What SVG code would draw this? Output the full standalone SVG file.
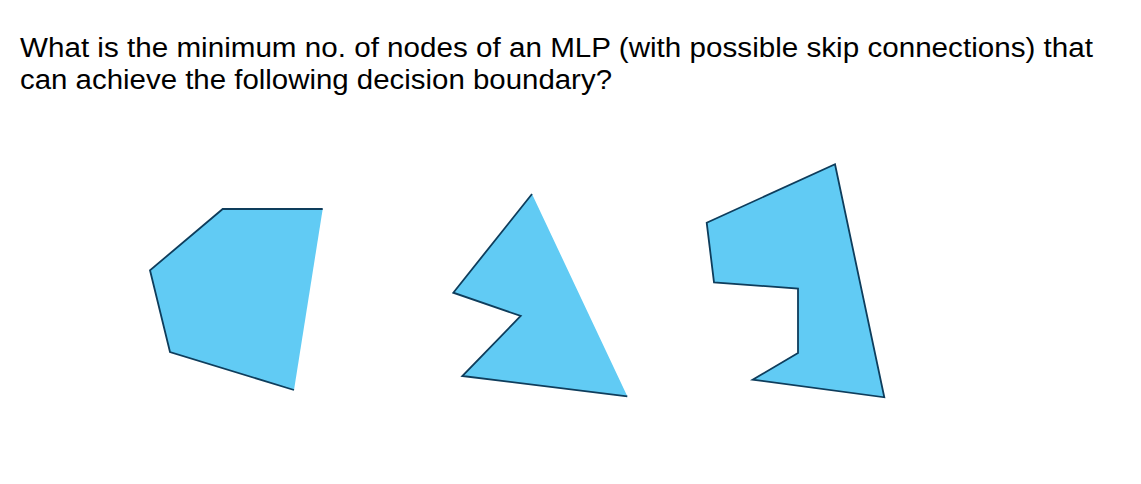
<svg xmlns="http://www.w3.org/2000/svg" width="1141" height="484" viewBox="0 0 1141 484">
<style>
.q{font-family:"Liberation Sans",Arial,sans-serif;font-size:27px;fill:#000}
.f{fill:#61CBF4;stroke:none}
.s{fill:none;stroke:#0E3D5C;stroke-width:1.8;stroke-linejoin:miter}
</style>
<rect width="1141" height="484" fill="#fff"/>
<g id="question">
<text class="q" x="20" y="57" textLength="1073" lengthAdjust="spacingAndGlyphs">What is the minimum no. of nodes of an MLP (with possible skip connections) that</text>
<text class="q" x="20" y="88.5" textLength="592" lengthAdjust="spacingAndGlyphs">can achieve the following decision boundary?</text>
</g>
<g id="shape1">
<polygon class="f" points="222.7,209 322.7,209 294,390 170,352 150,270.3"/>
<polyline class="s" points="322.7,209 222.7,209 150,270.3 170,352 294,390"/>
</g>
<g id="shape2">
<polygon class="f" points="532,194 627.3,396.3 462.3,376 520.7,316 453.3,292.7"/>
<polyline class="s" points="627.3,396.3 462.3,376 520.7,316 453.3,292.7 532,194"/>
</g>
<g id="shape3">
<polygon class="f" points="835,164.3 884.3,397.3 752.7,379.7 798,353 798,288.7 714,282.3 706.7,222.7"/>
<polygon class="s" points="835,164.3 884.3,397.3 752.7,379.7 798,353 798,288.7 714,282.3 706.7,222.7"/>
</g>
</svg>
